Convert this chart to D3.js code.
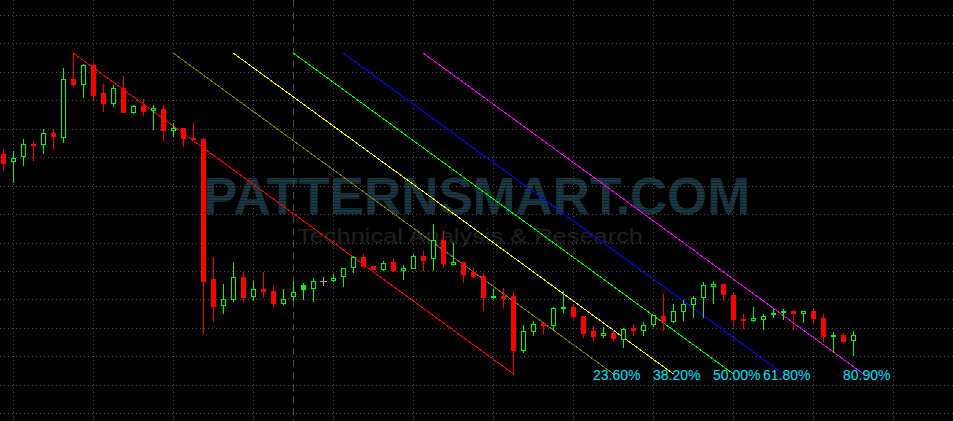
<!DOCTYPE html>
<html><head><meta charset="utf-8">
<script src="https://cdn.jsdelivr.net/npm/d3@7"></script>
<style>html,body{margin:0;padding:0;background:#000;overflow:hidden}svg{display:block}</style>
</head><body><svg id="c" width="953" height="421"></svg>
<script>
// ---- data (price units) ----
const opens = [267,258.7,264.3,277,276.3,288,283.3,342,336.3,356,
  328.3,317.3,333,308.3,315.3,309.7,312,290.3,293,283,
  282,142,115.3,121,144,124.3,132,130,116.7,123.7,
  131.3,131.7,140,139.7,143.7,152.7,164,155,151.3,158.7,
  150.3,152.3,165,161.7,181,156.3,159,149.3,145,123,
  125,125,70.3,88.7,98,95,112,114,105,90,
  85,88,81,93,90.3,96,105,99.3,109.3,116.3,
  123.3,134.3,137,126,102,100,101.3,105.7,108.3,110,
  107.3,110,103,84.3,86,80];
const highs = [271.7,270,282,280,292,292,353,367.7,357,358.7,
  337,336,345,316,321.7,315.7,315.7,297.7,293,298,
  283,164,137,159,148.7,140,148.7,135,132,140,
  138,143,144,146.7,152.7,165,167,155,160.3,161.7,
  155.7,166.7,170,197,190,178.3,159,153.7,147.7,132,
  133.3,130,96,100,98,113.7,130,117.5,105,95,
  93.7,90.7,92.7,96.7,99.3,106,127,117.3,120.7,125,
  139,140.3,137,128.3,107,114,107.3,112.7,112.3,110,
  110,113.3,107.3,89,88.3,90];
const lows = [251,238.7,256,260.3,267.7,272,278.3,334.3,323.3,321,
  309.3,314.3,308.3,307.7,306,292,280.3,284.3,275,281,
  87.7,99.3,107.7,119.3,119.3,120.3,123.3,113.3,116.7,120.3,
  121.7,119.3,135.3,139.7,134.3,148.3,154.3,151.3,150.3,150,
  142,152.3,151,151,153.3,156.3,139,144,110.3,123,
  114,47,68.7,85.3,87.3,91,108.3,102.3,84,80.7,
  84,80.7,73.3,85.7,85.7,94.3,90.3,98.7,101,103.7,
  103.7,118,121,94.3,93,100,92,103.3,102,92,
  98.7,98.7,80,68.7,79,66];
const closes = [257,262.7,276.7,275,287.7,284,341.7,336,356,325,
  317.3,332.7,308.3,314.7,309.3,312.7,290.3,293,282.3,281.3,
  139.3,114.3,121.7,144,123.3,131.7,129.3,116.7,121.7,128.7,
  136,139.7,140,142.7,152.7,163.7,154.3,151.3,158,150,
  152.7,165,160.3,180.7,157.3,159,146,144,123.3,125,
  122.3,70.3,90,96.7,95.3,113,114,104.3,87.3,84,
  88,82.3,91.7,90,95.7,106,99.3,109.7,116.7,122.7,
  135.7,137,126,101,100.3,103,104.7,107.7,110,107.3,
  110,102,84,85.7,79,86];
const solidBars = [30];

// Fibonacci channel: base line from high of bar 7 to low of bar 51
const channelStartBar = 7, channelEndBar = 51;
const channelLabels = ["", "23.60%", "38.20%", "50.00%", "61.80%", "80.90%"];
const channelShift = [0, 10, 16, 22, 27, 35];   // in bars
const channelColors = ["#ff0000", "#808000", "#ffff00", "#00ff00", "#0000ff", "#ff00ff"];

const sessionBreaks = [29];

// ---- scales ----
const W = 953, H = 421;
const svg = d3.select("#c");
const x = d3.scaleLinear().domain([0, 1]).range([3.5, 13.5]);
const y = d3.scaleLinear().domain([0, 421]).range([421, 0]);

svg.append("rect").attr("width", W).attr("height", H).attr("fill", "#000");

// ---- watermark ----
const defs = svg.append("defs");
const pat = defs.append("pattern").attr("id", "stripes").attr("patternUnits", "userSpaceOnUse")
  .attr("width", 4).attr("height", 3);
pat.append("rect").attr("width", 4).attr("height", 3).attr("fill", "#1b3943");
pat.append("rect").attr("y", 2).attr("width", 4).attr("height", 1).attr("fill", "#112831");
defs.append("filter").attr("id", "soft").append("feGaussianBlur").attr("stdDeviation", 0.6);

svg.append("text").attr("x", 203).attr("y", 213.5)
  .attr("font-family", "Liberation Sans, Arial, sans-serif").attr("font-weight", "bold")
  .attr("font-size", 52).attr("textLength", 547).attr("lengthAdjust", "spacingAndGlyphs")
  .attr("fill", "url(#stripes)").attr("filter", "url(#soft)").text("PATTERNSMART.COM");
svg.append("text").attr("x", 297).attr("y", 243)
  .attr("font-family", "Liberation Sans, Arial, sans-serif")
  .attr("font-size", 20).attr("textLength", 346).attr("lengthAdjust", "spacingAndGlyphs")
  .attr("fill", "#202020").text("Technical Analysis & Research");

// ---- grid ----
const gridPrices = d3.range(0, 15).map(k => 405.5 - 28.45 * k);
const gridBars = d3.range(1, 95, 8);
const g = svg.append("g").attr("shape-rendering", "crispEdges");
g.selectAll("line.h").data(gridPrices).join("line").attr("class", "h")
  .attr("x1", 0).attr("x2", W).attr("y1", d => Math.floor(y(d)) + 0.5).attr("y2", d => Math.floor(y(d)) + 0.5)
  .attr("stroke", "#505050").attr("stroke-dasharray", "1,3");
g.selectAll("line.v").data(gridBars).join("line").attr("class", "v")
  .attr("x1", d => x(d)).attr("x2", d => x(d)).attr("y1", 0).attr("y2", H)
  .attr("stroke", "#505050").attr("stroke-dasharray", "1,3");
g.selectAll("line.s").data(sessionBreaks).join("line").attr("class", "s")
  .attr("x1", d => x(d)).attr("x2", d => x(d)).attr("y1", 0).attr("y2", H)
  .attr("stroke", "#4a4a4a").attr("stroke-dasharray", "7,5");

// ---- channel lines ----
const p0 = highs[channelStartBar], p1 = lows[channelEndBar];
const ch = svg.append("g").attr("shape-rendering", "crispEdges");
ch.selectAll("line").data(channelShift).join("line")
  .attr("x1", d => x(channelStartBar + d)).attr("y1", y(p0))
  .attr("x2", d => x(channelEndBar + d)).attr("y2", y(p1))
  .attr("stroke", (d, i) => channelColors[i]).attr("stroke-width", 1);

// ---- candles ----
const idx = d3.range(opens.length);
const cg = svg.append("g").attr("shape-rendering", "crispEdges");
const colorOf = i => closes[i] > opens[i] ? "#00ff00" : closes[i] < opens[i] ? "#ff0000" : "#a8a8a8";
cg.selectAll("line.w").data(idx).join("line").attr("class", "w")
  .attr("x1", i => x(i)).attr("x2", i => x(i))
  .attr("y1", i => y(highs[i])).attr("y2", i => y(lows[i]) + 0.5)
  .attr("stroke", colorOf);
idx.forEach(i => {
  const o = opens[i], c = closes[i], cx = x(i);
  if (c < o) {
    const top = Math.round(y(o)), bot = Math.round(y(c));
    cg.append("rect").attr("x", cx - 2.5).attr("width", 5)
      .attr("y", top).attr("height", Math.max(1, bot - top)).attr("fill", "#ff0000");
  } else if (c > o) {
    const top = Math.round(y(c)), bot = Math.round(y(o));
    const hgt = bot - top;
    if (hgt <= 2 || solidBars.includes(i)) {
      cg.append("rect").attr("x", cx - 2.5).attr("width", 5)
        .attr("y", top).attr("height", Math.max(2, hgt)).attr("fill", "#00ff00");
    } else {
      cg.append("rect").attr("x", cx - 2).attr("width", 4)
        .attr("y", top + 0.5).attr("height", hgt - 1)
        .attr("fill", "#000").attr("stroke", "#00ff00").attr("stroke-width", 1);
    }
  } else {
    cg.append("line").attr("x1", cx - 3.5).attr("x2", cx + 3.5)
      .attr("y1", Math.floor(y(o)) + 0.5).attr("y2", Math.floor(y(o)) + 0.5)
      .attr("stroke", "#a8a8a8");
  }
});

// ---- channel labels ----
svg.selectAll("text.lab").data(channelShift.slice(1)).join("text").attr("class", "lab")
  .attr("x", d => x(channelEndBar + d) - 20.5).attr("y", 379.5)
  .attr("font-family", "Liberation Sans, Arial, sans-serif").attr("font-size", 14)
  .attr("fill", "#00e5ff").text((d, i) => channelLabels[i + 1]);
</script></body></html>
